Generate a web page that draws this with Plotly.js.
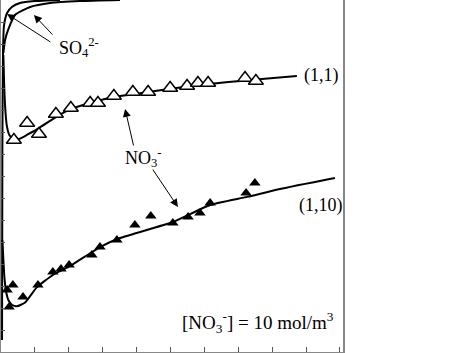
<!DOCTYPE html>
<html>
<head>
<meta charset="utf-8">
<script src="https://cdn.plot.ly/plotly-3.0.1.min.js"></script>
<style>html,body{margin:0;padding:0;background:#fff;}#chart{width:474px;height:353px;}</style>
</head>
<body>
<div id="chart"></div>
<script>
// Open triangles, (1,1)
const openX = [0.38, 0.77, 1.12, 1.62, 2.06, 2.63, 2.86, 3.33, 3.89, 4.34, 4.99, 5.49, 5.81, 6.11, 7.20, 7.52];
const openY = [9.64, 10.41, 9.91, 10.82, 11.09, 11.32, 11.32, 11.64, 11.82, 11.82, 12.0, 12.09, 12.23, 12.23, 12.45, 12.32];
// Filled triangles, (1,10)
const fillX = [0.18, 0.35, 0.24, 0.65, 1.09, 1.53, 1.77, 2.01, 2.68, 2.92, 3.42, 3.95, 4.42, 5.07, 5.52, 5.87, 6.17, 7.23, 7.49];
const fillY = [2.82, 3.05, 2.05, 2.5, 3.05, 3.64, 3.77, 3.95, 4.41, 4.77, 5.09, 5.77, 6.18, 5.86, 6.14, 6.32, 6.77, 7.23, 7.68];
// Model curves
const fit11X = [0.07, 0.09, 0.12, 0.17, 0.25, 0.38, 0.56, 0.8, 1.12, 1.62, 2.06, 2.63, 3.33, 4.34, 5.87, 7.35, 8.73];
const fit11Y = [13.5, 12.3, 11.2, 10.3, 9.85, 9.66, 9.7, 9.9, 10.18, 10.68, 11.05, 11.32, 11.59, 11.82, 12.14, 12.36, 12.55];
const fit110X = [0.04, 0.07, 0.1, 0.15, 0.22, 0.32, 0.47, 0.71, 1.06, 1.53, 2.04, 2.92, 3.51, 5.07, 6.17, 7.26, 8.23, 9.85];
const fit110Y = [5.09, 4.2, 3.4, 2.75, 2.35, 2.15, 2.08, 2.25, 2.95, 3.5, 3.91, 4.77, 5.18, 5.91, 6.68, 7.05, 7.41, 7.91];
const so4aX = [0.03, 0.04, 0.06, 0.09, 0.18, 0.32, 0.56, 1.0, 1.74];
const so4aY = [0.55, 9.18, 13.73, 14.86, 15.41, 15.68, 15.86, 15.95, 16.0];
const so4bX = [0.07, 0.12, 0.21, 0.41, 0.86, 1.45, 2.33, 3.51];
const so4bY = [13.59, 14.18, 14.64, 15.32, 15.68, 15.86, 15.95, 16.0];

const F = {family: 'Liberation Serif, Times New Roman, serif', size: 18, color: '#000'};
const FB = {family: 'Liberation Serif, Times New Roman, serif', size: 19, color: '#000'};
const lineStyle = {color: '#000', width: 2, shape: 'spline', smoothing: 0.5};

const traces = [
  {x: so4aX, y: so4aY, mode: 'lines', line: lineStyle},
  {x: so4bX, y: so4bY, mode: 'lines', line: lineStyle},
  {x: fit11X, y: fit11Y, mode: 'lines', line: lineStyle},
  {x: fit110X, y: fit110Y, mode: 'lines', line: lineStyle},
  {x: openX, y: openY, mode: 'markers',
   marker: {symbol: 'triangle-up', size: 13, color: '#fff', line: {color: '#000', width: 1.5}}},
  {x: fillX, y: fillY, mode: 'markers',
   marker: {symbol: 'triangle-up', size: 10, color: '#000', line: {width: 0}}}
];

function arrow(hx, hy, tx, ty) {
  return {x: hx, y: hy, ax: tx, ay: ty, xref: 'x', yref: 'y', axref: 'x', ayref: 'y',
    showarrow: true, arrowhead: 2, arrowsize: 1.6, arrowwidth: 1, arrowcolor: '#000', text: ''};
}

const layout = {
  width: 474, height: 353,
  margin: {l: 1, r: 131, t: 0, b: 1},
  paper_bgcolor: '#fff', plot_bgcolor: '#fff',
  showlegend: false,
  xaxis: {range: [0, 10.09], dtick: 1, tick0: 0, ticks: 'inside', ticklen: 5, tickwidth: 1, tickcolor: '#555',
    showticklabels: false, showgrid: false, zeroline: false,
    showline: true, mirror: true, linecolor: '#888', linewidth: 2},
  yaxis: {range: [0, 16], dtick: 1, tick0: 0, ticks: 'inside', ticklen: 4, tickwidth: 1, tickcolor: '#555',
    showticklabels: false, showgrid: false, zeroline: false,
    showline: true, mirror: true, linecolor: '#888', linewidth: 2},
  annotations: [
    arrow(0.18, 15.36, 1.50, 14.05),
    arrow(0.97, 15.32, 1.56, 14.36),
    arrow(3.66, 11.05, 3.92, 9.32),
    arrow(5.22, 6.59, 4.45, 8.36),
    {x: 2.30, y: 13.82, xref: 'x', yref: 'y', text: 'SO<sub>4</sub><sup>2-</sup>', showarrow: false, font: F},
    {x: 4.19, y: 8.86, xref: 'x', yref: 'y', text: 'NO<sub>3</sub><sup>-</sup>', showarrow: false, font: F},
    {x: 8.88, y: 12.55, xref: 'x', yref: 'y', xanchor: 'left', text: '(1,1)', showarrow: false, font: F},
    {x: 8.73, y: 6.68, xref: 'x', yref: 'y', xanchor: 'left', text: '(1,10)', showarrow: false, font: F},
    {x: 5.28, y: 1.32, xref: 'x', yref: 'y', xanchor: 'left', text: '[NO<sub>3</sub><sup>-</sup>] = 10 mol/m<sup>3</sup>', showarrow: false, font: FB}
  ]
};

Plotly.newPlot('chart', traces, layout, {staticPlot: true, displayModeBar: false});
</script>
</body>
</html>
